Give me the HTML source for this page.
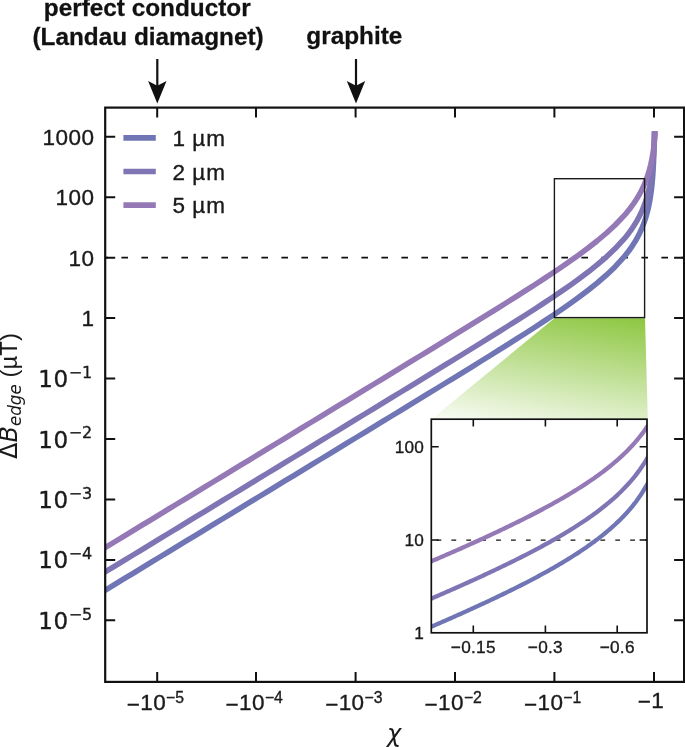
<!DOCTYPE html>
<html><head><meta charset="utf-8"><title>Edge field vs susceptibility</title>
<style>
html,body{margin:0;padding:0;background:#fff;width:685px;height:747px;overflow:hidden}
svg{display:block}
.b{font-family:"Liberation Sans",Arial,Helvetica,sans-serif;font-weight:bold;font-size:23.1px;fill:#111;stroke:#111;stroke-width:0.25px}
.t{font-family:"Liberation Sans",Arial,Helvetica,sans-serif;font-size:22.5px;fill:#1a1a1a;stroke:#1a1a1a;stroke-width:0.35px}
.d{font-family:"DejaVu Sans",sans-serif;font-size:23px;fill:#1a1a1a;stroke:#1a1a1a;stroke-width:0.35px}
.s{font-family:"Liberation Sans",Arial,Helvetica,sans-serif;font-size:15.75px;fill:#1a1a1a;stroke:#1a1a1a;stroke-width:0.35px}
.ds{font-family:"DejaVu Sans",sans-serif;font-size:16px;fill:#1a1a1a;stroke:#1a1a1a;stroke-width:0.35px}
.it{font-family:"Liberation Sans",Arial,Helvetica,sans-serif;font-size:17.2px;fill:#1a1a1a;stroke:#1a1a1a;stroke-width:0.35px}
</style></head><body>
<svg width="685" height="747" viewBox="0 0 685 747">
<defs>
<clipPath id="cm"><rect x="105.2" y="107.6" width="578.9" height="574.3"/></clipPath>
<clipPath id="ci"><rect x="431.3" y="419.2" width="215.7" height="213.6"/></clipPath>
<linearGradient id="g" gradientUnits="userSpaceOnUse" x1="645" y1="316.9" x2="623.1" y2="456.3">
<stop offset="0" stop-color="#8cc63f"/><stop offset="1" stop-color="#ffffff"/>
</linearGradient>
</defs>
<rect width="685" height="747" fill="#fff"/>

<text class="b" transform="translate(147.2,16.4) scale(1.054,1)" text-anchor="middle">perfect conductor</text>
<text class="b" transform="translate(148.1,45.4) scale(1.054,1)" text-anchor="middle">(Landau diamagnet)</text>
<text class="b" transform="translate(354.3,44.0) scale(1.054,1)" text-anchor="middle">graphite</text>
<line x1="157.3" y1="59" x2="157.3" y2="86" stroke="#111" stroke-width="2.2"/>
<path d="M148.10000000000002,80.9 L157.3,85.7 L166.5,80.9 L157.3,103.5 Z" fill="#111"/>
<line x1="356.0" y1="59" x2="356.0" y2="86" stroke="#111" stroke-width="2.2"/>
<path d="M346.8,80.9 L356.0,85.7 L365.2,80.9 L356.0,103.5 Z" fill="#111"/>
<line x1="105.2" y1="257.6" x2="684.1" y2="257.6" stroke="#111" stroke-width="1.8" stroke-dasharray="6.6 13.4" stroke-dashoffset="3.80" clip-path="url(#cm)"/>
<g clip-path="url(#cm)" fill="none" stroke-width="5.5" stroke-linejoin="round">
<path d="M97.38,595.02 L106.31,589.58 L115.23,584.15 L124.16,578.72 L133.09,573.29 L142.02,567.86 L150.94,562.43 L159.87,557.00 L168.80,551.57 L177.72,546.14 L186.65,540.71 L195.58,535.28 L204.51,529.85 L213.43,524.42 L222.36,518.99 L231.29,513.56 L240.22,508.13 L249.14,502.70 L258.07,497.27 L267.00,491.83 L275.93,486.40 L284.85,480.97 L293.78,475.54 L302.71,470.11 L311.63,464.68 L320.56,459.24 L329.49,453.81 L338.42,448.38 L347.34,442.94 L356.27,437.51 L365.20,432.07 L374.13,426.63 L383.05,421.19 L391.98,415.75 L400.91,410.31 L409.83,404.86 L418.76,399.41 L427.69,393.95 L436.62,388.49 L445.54,383.02 L454.47,377.54 L463.40,372.06 L472.33,366.55 L481.25,361.03 L490.18,355.49 L499.11,349.92 L508.03,344.33 L516.96,338.69 L525.89,333.00 L534.82,327.24 L543.74,321.41 L552.67,315.48 L561.60,309.41 L570.53,303.18 L579.45,296.73 L588.38,289.99 L597.31,282.86 L606.24,275.17 L615.16,266.66 L624.09,256.87 L625.57,255.06 L626.95,253.32 L628.25,251.63 L629.47,249.99 L630.61,248.39 L631.69,246.84 L632.70,245.32 L633.66,243.83 L634.57,242.38 L635.43,240.96 L636.24,239.56 L637.02,238.19 L637.75,236.84 L638.45,235.52 L639.11,234.21 L639.74,232.93 L640.34,231.66 L640.91,230.41 L641.46,229.18 L641.98,227.96 L642.48,226.76 L642.95,225.57 L643.41,224.39 L643.84,223.22 L644.26,222.07 L644.66,220.93 L645.04,219.79 L645.40,218.67 L645.75,217.56 L646.09,216.45 L646.41,215.35 L646.72,214.26 L647.02,213.18 L647.30,212.11 L647.57,211.04 L647.84,209.98 L648.09,208.93 L648.33,207.88 L648.56,206.84 L648.79,205.80 L649.00,204.77 L649.21,203.74 L649.41,202.72 L649.60,201.70 L649.78,200.69 L649.96,199.68 L650.13,198.68 L650.29,197.68 L650.45,196.68 L650.60,195.68 L650.75,194.69 L650.89,193.71 L651.02,192.72 L651.15,191.74 L651.28,190.77 L651.40,189.79 L651.52,188.82 L651.63,187.85 L651.74,186.88 L651.84,185.92 L651.94,184.96 L652.04,183.99 L652.13,183.04 L652.23,182.08 L652.31,181.13 L652.40,180.17 L652.48,179.22 L652.56,178.28 L652.63,177.33 L652.70,176.38 L652.77,175.44 L652.84,174.50 L652.91,173.56 L652.97,172.62 L653.03,171.68 L653.09,170.74 L653.15,169.81 L653.20,168.87 L653.25,167.94 L653.30,167.01 L653.35,166.08 L653.40,165.15 L653.45,164.22 L653.49,163.29 L653.53,162.36 L653.57,161.44 L653.61,160.51 L653.65,159.59 L653.69,158.66 L653.72,157.74 L653.76,156.82 L653.79,155.90 L653.82,154.98 L653.86,154.06 L653.89,153.14 L653.91,152.22 L653.94,151.30 L653.97,150.38 L654.00,149.47 L654.02,148.55 L654.04,147.63 L654.07,146.72 L654.09,145.80 L654.11,144.89 L654.13,143.97 L654.15,143.06 L654.17,142.15 L654.19,141.23 L654.21,140.32 L654.23,139.41 L654.25,138.50 L654.26,137.59 L654.28,136.68 L654.29,135.77 L654.31,134.86 L654.32,133.95 L654.34,133.04 L654.35,132.13 L654.36,131.22" stroke="#7076b5"/>
<path d="M97.38,576.70 L106.31,571.27 L115.23,565.84 L124.16,560.41 L133.09,554.98 L142.02,549.55 L150.94,544.12 L159.87,538.69 L168.80,533.26 L177.72,527.83 L186.65,522.40 L195.58,516.97 L204.51,511.54 L213.43,506.11 L222.36,500.68 L231.29,495.25 L240.22,489.82 L249.14,484.39 L258.07,478.95 L267.00,473.52 L275.93,468.09 L284.85,462.66 L293.78,457.23 L302.71,451.80 L311.63,446.37 L320.56,440.93 L329.49,435.50 L338.42,430.07 L347.34,424.63 L356.27,419.20 L365.20,413.76 L374.13,408.32 L383.05,402.88 L391.98,397.44 L400.91,392.00 L409.83,386.55 L418.76,381.10 L427.69,375.64 L436.62,370.18 L445.54,364.71 L454.47,359.24 L463.40,353.75 L472.33,348.25 L481.25,342.73 L490.18,337.19 L499.11,331.62 L508.03,326.03 L516.96,320.39 L525.89,314.70 L534.82,308.96 L543.74,303.13 L552.67,297.20 L561.60,291.15 L570.53,284.93 L579.45,278.50 L588.38,271.79 L597.31,264.68 L606.24,257.04 L615.16,248.60 L624.09,238.92 L625.36,237.40 L626.56,235.92 L627.70,234.48 L628.78,233.07 L629.80,231.70 L630.77,230.36 L631.69,229.05 L632.57,227.77 L633.41,226.51 L634.21,225.28 L634.97,224.06 L635.70,222.87 L636.39,221.70 L637.06,220.55 L637.69,219.41 L638.30,218.29 L638.89,217.19 L639.45,216.10 L639.99,215.02 L640.50,213.96 L641.00,212.90 L641.48,211.87 L641.93,210.84 L642.38,209.82 L642.80,208.81 L643.21,207.82 L643.60,206.83 L643.98,205.85 L644.35,204.88 L644.70,203.91 L645.04,202.96 L645.36,202.01 L645.68,201.07 L645.98,200.14 L646.28,199.21 L646.56,198.29 L646.83,197.37 L647.10,196.46 L647.35,195.56 L647.60,194.66 L647.84,193.76 L648.07,192.87 L648.29,191.99 L648.51,191.11 L648.72,190.23 L648.92,189.36 L649.11,188.49 L649.30,187.63 L649.49,186.77 L649.66,185.91 L649.83,185.06 L650.00,184.21 L650.16,183.36 L650.32,182.52 L650.47,181.68 L650.61,180.84 L650.75,180.01 L650.89,179.17 L651.02,178.34 L651.15,177.52 L651.27,176.69 L651.40,175.87 L651.51,175.05 L651.63,174.23 L651.73,173.42 L651.84,172.60 L651.94,171.79 L652.04,170.98 L652.14,170.17 L652.24,169.37 L652.33,168.56 L652.42,167.76 L652.50,166.96 L652.58,166.16 L652.66,165.36 L652.74,164.56 L652.82,163.77 L652.89,162.97 L652.96,162.18 L653.03,161.39 L653.10,160.60 L653.17,159.81 L653.23,159.02 L653.29,158.24 L653.35,157.45 L653.41,156.67 L653.47,155.89 L653.52,155.10 L653.57,154.32 L653.62,153.54 L653.67,152.76 L653.72,151.98 L653.77,151.21 L653.82,150.43 L653.86,149.65 L653.90,148.88 L653.94,148.10 L653.99,147.33 L654.02,146.56 L654.06,145.78 L654.10,145.01 L654.14,144.24 L654.17,143.47 L654.21,142.70 L654.24,141.93 L654.27,141.16 L654.30,140.40 L654.33,139.63 L654.36,138.86 L654.39,138.10 L654.42,137.33 L654.44,136.56 L654.47,135.80 L654.50,135.03 L654.52,134.27 L654.54,133.51 L654.57,132.74 L654.59,131.98 L654.61,131.22" stroke="#8075b4"/>
<path d="M97.38,552.36 L106.31,546.93 L115.23,541.50 L124.16,536.07 L133.09,530.64 L142.02,525.21 L150.94,519.78 L159.87,514.35 L168.80,508.92 L177.72,503.49 L186.65,498.06 L195.58,492.63 L204.51,487.20 L213.43,481.76 L222.36,476.33 L231.29,470.90 L240.22,465.47 L249.14,460.04 L258.07,454.61 L267.00,449.18 L275.93,443.75 L284.85,438.32 L293.78,432.89 L302.71,427.45 L311.63,422.02 L320.56,416.59 L329.49,411.16 L338.42,405.72 L347.34,400.29 L356.27,394.85 L365.20,389.42 L374.13,383.98 L383.05,378.54 L391.98,373.10 L400.91,367.66 L409.83,362.21 L418.76,356.76 L427.69,351.31 L436.62,345.85 L445.54,340.38 L454.47,334.91 L463.40,329.42 L472.33,323.92 L481.25,318.41 L490.18,312.87 L499.11,307.31 L508.03,301.72 L516.96,296.10 L525.89,290.42 L534.82,284.69 L543.74,278.88 L552.67,272.98 L561.60,266.96 L570.53,260.78 L579.45,254.40 L588.38,247.76 L597.31,240.75 L606.24,233.24 L615.16,225.00 L624.09,215.66 L625.12,214.48 L626.10,213.34 L627.04,212.21 L627.94,211.12 L628.80,210.04 L629.63,208.99 L630.43,207.95 L631.20,206.94 L631.93,205.94 L632.65,204.95 L633.33,203.99 L633.99,203.04 L634.63,202.10 L635.24,201.18 L635.84,200.27 L636.41,199.37 L636.96,198.48 L637.50,197.60 L638.02,196.74 L638.52,195.88 L639.01,195.04 L639.48,194.20 L639.93,193.38 L640.38,192.56 L640.80,191.75 L641.22,190.95 L641.62,190.15 L642.01,189.36 L642.39,188.58 L642.76,187.81 L643.12,187.04 L643.47,186.28 L643.80,185.53 L644.13,184.78 L644.45,184.03 L644.76,183.29 L645.06,182.56 L645.36,181.83 L645.64,181.11 L645.92,180.39 L646.19,179.68 L646.45,178.97 L646.71,178.26 L646.96,177.56 L647.20,176.86 L647.43,176.17 L647.66,175.48 L647.89,174.80 L648.11,174.11 L648.32,173.43 L648.53,172.76 L648.73,172.09 L648.93,171.42 L649.12,170.75 L649.30,170.09 L649.49,169.43 L649.67,168.77 L649.84,168.11 L650.01,167.46 L650.17,166.81 L650.33,166.16 L650.49,165.52 L650.65,164.87 L650.79,164.23 L650.94,163.60 L651.08,162.96 L651.22,162.32 L651.36,161.69 L651.49,161.06 L651.62,160.43 L651.75,159.81 L651.87,159.18 L651.99,158.56 L652.11,157.94 L652.22,157.32 L652.34,156.70 L652.45,156.08 L652.55,155.47 L652.66,154.86 L652.76,154.24 L652.86,153.63 L652.96,153.02 L653.05,152.42 L653.15,151.81 L653.24,151.21 L653.33,150.60 L653.41,150.00 L653.50,149.40 L653.58,148.80 L653.66,148.20 L653.74,147.60 L653.82,147.00 L653.90,146.41 L653.97,145.81 L654.04,145.22 L654.11,144.63 L654.18,144.04 L654.25,143.44 L654.32,142.85 L654.38,142.27 L654.44,141.68 L654.51,141.09 L654.57,140.50 L654.63,139.92 L654.68,139.33 L654.74,138.75 L654.80,138.17 L654.85,137.58 L654.90,137.00 L654.95,136.42 L655.01,135.84 L655.05,135.26 L655.10,134.68 L655.15,134.10 L655.20,133.52 L655.24,132.95 L655.29,132.37 L655.33,131.79 L655.37,131.22" stroke="#9479b6"/>
</g>
<path d="M554.4,318.3 L645.0,318.3 L647.8,419.2 L431.3,419.2 Z" fill="url(#g)"/>
<rect x="554.4" y="178.7" width="90.2" height="138.9" fill="none" stroke="#1a1a1a" stroke-width="1.4"/>
<path d="M157.2,681.9 V671.9 M157.2,107.6 V117.6 M256.0,681.9 V671.9 M256.0,107.6 V117.6 M355.6,681.9 V671.9 M355.6,107.6 V117.6 M455.0,681.9 V671.9 M455.0,107.6 V117.6 M554.4,681.9 V671.9 M554.4,107.6 V117.6 M654.0,681.9 V671.9 M654.0,107.6 V117.6 M105.2,136.80 H115.2 M684.1,136.80 H674.1 M105.2,197.24 H115.2 M684.1,197.24 H674.1 M105.2,257.68 H115.2 M684.1,257.68 H674.1 M105.2,318.12 H115.2 M684.1,318.12 H674.1 M105.2,378.56 H115.2 M684.1,378.56 H674.1 M105.2,439.00 H115.2 M684.1,439.00 H674.1 M105.2,499.44 H115.2 M684.1,499.44 H674.1 M105.2,559.88 H115.2 M684.1,559.88 H674.1 M105.2,620.32 H115.2 M684.1,620.32 H674.1" stroke="#111" stroke-width="2" fill="none"/>
<rect x="105.2" y="107.6" width="578.9" height="574.3" fill="none" stroke="#111" stroke-width="2.2"/>
<line x1="123.4" y1="137.9" x2="155.8" y2="137.9" stroke="#7076b5" stroke-width="5.6"/>
<text class="t" x="172.4" y="145.9">1<tspan x="192.2" letter-spacing="1.2">µm</tspan></text>
<line x1="123.4" y1="171.5" x2="155.8" y2="171.5" stroke="#8075b4" stroke-width="5.6"/>
<text class="t" x="172.4" y="179.5">2<tspan x="192.2" letter-spacing="1.2">µm</tspan></text>
<line x1="123.4" y1="205.1" x2="155.8" y2="205.1" stroke="#9479b6" stroke-width="5.6"/>
<text class="t" x="172.4" y="213.1">5<tspan x="192.2" letter-spacing="1.2">µm</tspan></text>
<text class="t" x="94.6" y="144.6" text-anchor="end" letter-spacing="0.5">1000</text>
<text class="t" x="94.6" y="205.0" text-anchor="end" letter-spacing="0.5">100</text>
<text class="t" x="94.6" y="265.5" text-anchor="end" letter-spacing="0.5">10</text>
<text class="t" x="94.6" y="325.9" text-anchor="end" letter-spacing="0.5">1</text>
<text x="92.3" y="387.1" text-anchor="end"><tspan class="d" letter-spacing="0.6">10</tspan><tspan class="ds" dy="-9.2">−1</tspan></text>
<text x="92.3" y="447.5" text-anchor="end"><tspan class="d" letter-spacing="0.6">10</tspan><tspan class="ds" dy="-9.2">−2</tspan></text>
<text x="92.3" y="507.9" text-anchor="end"><tspan class="d" letter-spacing="0.6">10</tspan><tspan class="ds" dy="-9.2">−3</tspan></text>
<text x="92.3" y="568.4" text-anchor="end"><tspan class="d" letter-spacing="0.6">10</tspan><tspan class="ds" dy="-9.2">−4</tspan></text>
<text x="92.3" y="628.8" text-anchor="end"><tspan class="d" letter-spacing="0.6">10</tspan><tspan class="ds" dy="-9.2">−5</tspan></text>
<text x="155.4" y="710.0" text-anchor="middle"><tspan class="t" dy="1.5" letter-spacing="0.4">−</tspan><tspan class="t" dy="-1.5" letter-spacing="0.4">10</tspan><tspan class="s" dy="-7.4">−5</tspan></text>
<text x="254.2" y="710.0" text-anchor="middle"><tspan class="t" dy="1.5" letter-spacing="0.4">−</tspan><tspan class="t" dy="-1.5" letter-spacing="0.4">10</tspan><tspan class="s" dy="-7.4">−4</tspan></text>
<text x="353.8" y="710.0" text-anchor="middle"><tspan class="t" dy="1.5" letter-spacing="0.4">−</tspan><tspan class="t" dy="-1.5" letter-spacing="0.4">10</tspan><tspan class="s" dy="-7.4">−3</tspan></text>
<text x="453.2" y="710.0" text-anchor="middle"><tspan class="t" dy="1.5" letter-spacing="0.4">−</tspan><tspan class="t" dy="-1.5" letter-spacing="0.4">10</tspan><tspan class="s" dy="-7.4">−2</tspan></text>
<text x="552.6" y="710.0" text-anchor="middle"><tspan class="t" dy="1.5" letter-spacing="0.4">−</tspan><tspan class="t" dy="-1.5" letter-spacing="0.4">10</tspan><tspan class="s" dy="-7.4">−1</tspan></text>
<text x="650.8" y="707.8" text-anchor="middle"><tspan class="t" dy="1.5" letter-spacing="0.4">−</tspan><tspan class="t" dy="-1.5">1</tspan></text>
<text x="394" y="741.5" text-anchor="middle" style="font-family:'DejaVu Sans',sans-serif;font-style:oblique;font-size:24px;fill:#1a1a1a">χ</text>
<text transform="translate(16.8,459) rotate(-90)" style="font-size:24px;fill:#1a1a1a"><tspan style="font-family:'DejaVu Sans',sans-serif">Δ</tspan><tspan style="font-family:'DejaVu Sans',sans-serif;font-style:oblique">B</tspan><tspan dy="4.5" style="font-family:'DejaVu Sans',sans-serif;font-style:oblique;font-size:16.8px">edge</tspan><tspan dy="-4.5" style="font-family:'Liberation Sans',Arial,sans-serif"> (µT)</tspan></text>
<rect x="431.3" y="419.2" width="215.7" height="213.6" fill="#fff"/>
<line x1="431.3" y1="540.1" x2="647.0" y2="540.1" stroke="#111" stroke-width="1.4" stroke-dasharray="4.8 10.1" stroke-dashoffset="-5.20"/>
<g clip-path="url(#ci)" fill="none" stroke-width="4.3" stroke-linejoin="round">
<path d="M425.98,629.01 L427.89,628.19 L429.80,627.37 L431.71,626.55 L433.62,625.72 L435.53,624.89 L437.44,624.06 L439.35,623.23 L441.26,622.40 L443.17,621.56 L445.08,620.73 L446.99,619.89 L448.91,619.05 L450.82,618.20 L452.73,617.36 L454.64,616.51 L456.55,615.66 L458.46,614.81 L460.37,613.96 L462.28,613.10 L464.19,612.24 L466.10,611.38 L468.01,610.52 L469.92,609.65 L471.83,608.78 L473.74,607.91 L475.65,607.04 L477.56,606.16 L479.47,605.28 L481.39,604.40 L483.30,603.51 L485.21,602.62 L487.12,601.73 L489.03,600.83 L490.94,599.93 L492.85,599.03 L494.76,598.12 L496.67,597.21 L498.58,596.30 L500.49,595.38 L502.40,594.46 L504.31,593.53 L506.22,592.60 L508.13,591.67 L510.04,590.73 L511.95,589.78 L513.87,588.84 L515.78,587.88 L517.69,586.92 L519.60,585.96 L521.51,584.99 L523.42,584.02 L525.33,583.04 L527.24,582.05 L529.15,581.06 L531.06,580.06 L532.97,579.06 L534.88,578.05 L536.79,577.03 L538.70,576.00 L540.61,574.97 L542.52,573.93 L544.43,572.88 L546.35,571.83 L548.26,570.76 L550.17,569.69 L552.08,568.61 L553.99,567.52 L555.90,566.42 L557.81,565.31 L559.72,564.19 L561.63,563.06 L563.54,561.92 L565.45,560.77 L567.36,559.60 L569.27,558.42 L571.18,557.23 L573.09,556.03 L575.00,554.81 L576.91,553.58 L578.83,552.33 L580.74,551.07 L582.65,549.79 L584.56,548.49 L586.47,547.18 L588.38,545.84 L590.29,544.49 L592.20,543.11 L594.11,541.71 L596.02,540.29 L597.93,538.85 L599.84,537.38 L601.75,535.88 L603.66,534.35 L605.57,532.79 L607.48,531.20 L609.39,529.58 L611.31,527.92 L613.22,526.22 L615.13,524.48 L617.04,522.69 L618.95,520.86 L620.86,518.97 L622.77,517.03 L624.68,515.03 L626.59,512.97 L628.50,510.83 L630.41,508.62 L632.32,506.32 L634.23,503.93 L636.14,501.44 L638.05,498.83 L639.96,496.10 L641.87,493.22 L643.79,490.18 L645.70,486.96 L647.61,483.52 L649.52,479.84 L651.43,475.86 L653.34,471.53" stroke="#7076b5"/>
<path d="M425.98,600.90 L427.89,600.08 L429.80,599.26 L431.71,598.43 L433.62,597.61 L435.53,596.78 L437.44,595.95 L439.35,595.13 L441.26,594.29 L443.17,593.46 L445.08,592.62 L446.99,591.79 L448.91,590.95 L450.82,590.11 L452.73,589.26 L454.64,588.42 L456.55,587.57 L458.46,586.72 L460.37,585.87 L462.28,585.01 L464.19,584.16 L466.10,583.30 L468.01,582.44 L469.92,581.57 L471.83,580.71 L473.74,579.84 L475.65,578.96 L477.56,578.09 L479.47,577.21 L481.39,576.33 L483.30,575.45 L485.21,574.56 L487.12,573.67 L489.03,572.78 L490.94,571.88 L492.85,570.98 L494.76,570.08 L496.67,569.17 L498.58,568.26 L500.49,567.34 L502.40,566.42 L504.31,565.50 L506.22,564.57 L508.13,563.64 L510.04,562.71 L511.95,561.77 L513.87,560.82 L515.78,559.87 L517.69,558.92 L519.60,557.96 L521.51,556.99 L523.42,556.02 L525.33,555.05 L527.24,554.07 L529.15,553.08 L531.06,552.09 L532.97,551.09 L534.88,550.08 L536.79,549.07 L538.70,548.05 L540.61,547.02 L542.52,545.99 L544.43,544.95 L546.35,543.90 L548.26,542.84 L550.17,541.78 L552.08,540.70 L553.99,539.62 L555.90,538.53 L557.81,537.43 L559.72,536.32 L561.63,535.19 L563.54,534.06 L565.45,532.92 L567.36,531.76 L569.27,530.59 L571.18,529.41 L573.09,528.22 L575.00,527.01 L576.91,525.79 L578.83,524.56 L580.74,523.31 L582.65,522.04 L584.56,520.76 L586.47,519.46 L588.38,518.14 L590.29,516.80 L592.20,515.44 L594.11,514.06 L596.02,512.66 L597.93,511.23 L599.84,509.78 L601.75,508.30 L603.66,506.80 L605.57,505.27 L607.48,503.70 L609.39,502.10 L611.31,500.47 L613.22,498.80 L615.13,497.10 L617.04,495.35 L618.95,493.55 L620.86,491.71 L622.77,489.81 L624.68,487.86 L626.59,485.84 L628.50,483.76 L630.41,481.61 L632.32,479.38 L634.23,477.07 L636.14,474.66 L638.05,472.14 L639.96,469.51 L641.87,466.75 L643.79,463.84 L645.70,460.77 L647.61,457.50 L649.52,454.01 L651.43,450.27 L653.34,446.23" stroke="#8075b4"/>
<path d="M425.98,563.62 L427.89,562.81 L429.80,561.99 L431.71,561.17 L433.62,560.35 L435.53,559.53 L437.44,558.70 L439.35,557.88 L441.26,557.05 L443.17,556.22 L445.08,555.39 L446.99,554.56 L448.91,553.72 L450.82,552.89 L452.73,552.05 L454.64,551.21 L456.55,550.37 L458.46,549.52 L460.37,548.68 L462.28,547.83 L464.19,546.98 L466.10,546.12 L468.01,545.27 L469.92,544.41 L471.83,543.55 L473.74,542.69 L475.65,541.82 L477.56,540.95 L479.47,540.08 L481.39,539.21 L483.30,538.33 L485.21,537.45 L487.12,536.57 L489.03,535.68 L490.94,534.80 L492.85,533.90 L494.76,533.01 L496.67,532.11 L498.58,531.21 L500.49,530.30 L502.40,529.39 L504.31,528.48 L506.22,527.56 L508.13,526.64 L510.04,525.72 L511.95,524.79 L513.87,523.86 L515.78,522.92 L517.69,521.98 L519.60,521.03 L521.51,520.08 L523.42,519.12 L525.33,518.16 L527.24,517.19 L529.15,516.22 L531.06,515.24 L532.97,514.25 L534.88,513.26 L536.79,512.27 L538.70,511.26 L540.61,510.25 L542.52,509.24 L544.43,508.22 L546.35,507.19 L548.26,506.15 L550.17,505.10 L552.08,504.05 L553.99,502.99 L555.90,501.92 L557.81,500.84 L559.72,499.75 L561.63,498.66 L563.54,497.55 L565.45,496.43 L567.36,495.30 L569.27,494.17 L571.18,493.02 L573.09,491.85 L575.00,490.68 L576.91,489.49 L578.83,488.29 L580.74,487.08 L582.65,485.85 L584.56,484.61 L586.47,483.35 L588.38,482.07 L590.29,480.78 L592.20,479.47 L594.11,478.14 L596.02,476.79 L597.93,475.42 L599.84,474.03 L601.75,472.62 L603.66,471.18 L605.57,469.71 L607.48,468.22 L609.39,466.70 L611.31,465.15 L613.22,463.57 L615.13,461.96 L617.04,460.31 L618.95,458.62 L620.86,456.89 L622.77,455.12 L624.68,453.29 L626.59,451.42 L628.50,449.50 L630.41,447.52 L632.32,445.47 L634.23,443.35 L636.14,441.16 L638.05,438.89 L639.96,436.52 L641.87,434.06 L643.79,431.49 L645.70,428.79 L647.61,425.95 L649.52,422.96 L651.43,419.79 L653.34,416.41" stroke="#9479b6"/>
</g>
<path d="M473.3,632.8 V625.4 M473.3,419.2 V426.59999999999997 M545.4,632.8 V625.4 M545.4,419.2 V426.59999999999997 M617.2,632.8 V625.4 M617.2,419.2 V426.59999999999997 M431.3,446.8 H438.7 M647.0,446.8 H639.6 M431.3,540.0 H438.7 M647.0,540.0 H639.6" stroke="#111" stroke-width="1.6" fill="none"/>
<rect x="431.3" y="419.2" width="215.7" height="213.6" fill="none" stroke="#111" stroke-width="1.7"/>
<text class="it" x="424" y="453.1" text-anchor="end" letter-spacing="0.2">100</text>
<text class="it" x="424" y="546.3" text-anchor="end" letter-spacing="0.2">10</text>
<text class="it" x="424" y="639.1" text-anchor="end" letter-spacing="0.2">1</text>
<text class="it" x="473.3" y="653.0" text-anchor="middle" letter-spacing="0.3">−0.15</text>
<text class="it" x="545.4" y="653.0" text-anchor="middle" letter-spacing="0.3">−0.3</text>
<text class="it" x="617.2" y="653.0" text-anchor="middle" letter-spacing="0.3">−0.6</text>
</svg>
</body></html>
